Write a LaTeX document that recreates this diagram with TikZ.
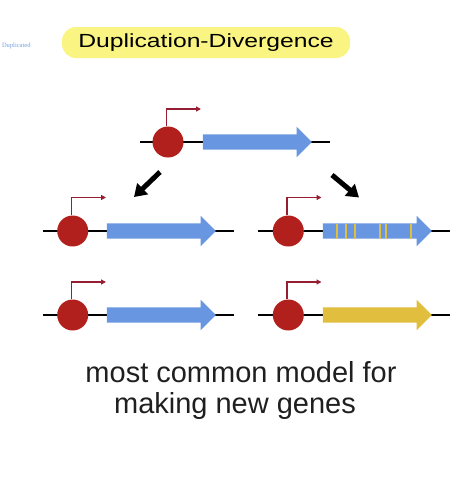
\documentclass[tikz,border=0pt]{standalone}
\usepackage{fontspec}
\newfontfamily\labelsans{Liberation Sans}
\newfontfamily\labelserif{Liberation Serif}
\usetikzlibrary{shapes.arrows,arrows.meta}

\definecolor{PromoterRed}{RGB}{178,32,30}
\definecolor{StartColor}{RGB}{150,30,50}
\definecolor{GeneBlue}{RGB}{105,150,225}
\definecolor{GeneGold}{RGB}{226,190,62}
\definecolor{TitleYellow}{RGB}{250,245,130}
\definecolor{TinyBlue}{RGB}{110,160,225}

\tikzstyle{promoter}=[circle, fill=PromoterRed,
                      minimum size=31pt,
                      inner sep=0pt
                     ]
\tikzstyle{gene-base}=[single arrow,
                       anchor=tail,
                       inner xsep=0pt,
                       inner ysep=7.5pt,
                       minimum height=109pt,
                       single arrow head extend=7.5pt,
                       single arrow head indent=0pt
                      ]
\tikzstyle{gene}=[gene-base, fill=GeneBlue]
\tikzstyle{diverged}=[gene-base, fill=GeneGold]
\tikzstyle{dnaline}=[draw=black, line width=2pt]
\tikzstyle{tss}=[draw=StartColor, line width=1.4pt, -{Triangle[length=5pt,width=5pt]}]
\tikzstyle{mutation}=[draw=GeneGold, line width=1.3pt]
\tikzstyle{copyarrow}=[line width=5pt, -{Triangle[length=12pt,width=15pt]}]

\begin{document}
\begin{tikzpicture}[x=1pt, y=-1pt]
\useasboundingbox (0,0) rectangle (474,482);

\node at (-1.5, 46) (dup_label) [anchor=west, text=TinyBlue, font=\labelserif\fontsize{6.5}{8}\selectfont] {Duplicated};
\node at (206, 42.5) (title) [fill=TitleYellow, rounded corners=14pt, minimum width=288pt, minimum height=31pt,
    font=\labelsans\fontsize{19}{23}\selectfont] {\scalebox{1.3}[1]{Duplication-Divergence}};

% dna strands
\coordinate (l0) at (140, 142);   \coordinate (r0) at (330, 142);
\coordinate (l1) at (43, 231);    \coordinate (r1) at (234, 231);
\coordinate (l2) at (258, 231);   \coordinate (r2) at (450, 231);
\coordinate (l3) at (43, 315);    \coordinate (r3) at (234, 315);
\coordinate (l4) at (258, 315);   \coordinate (r4) at (450, 315);
\draw[dnaline] (l0) -- (r0);
\draw[dnaline] (l1) -- (r1);
\draw[dnaline] (l2) -- (r2);
\draw[dnaline] (l3) -- (r3);
\draw[dnaline] (l4) -- (r4);

% original gene
\node at (168, 142) (prom0) [promoter] {};
\node at (202.7, 142) (gene0) [gene] {};

% duplicated copies
\node at (72.7, 231) (prom1) [promoter] {};
\node at (106.7, 231) (gene1) [gene] {};
\node at (288.3, 231) (prom2) [promoter] {};
\node at (322.7, 231) (gene2) [gene] {};
\node at (72.7, 315) (prom3) [promoter] {};
\node at (106.7, 315) (gene3) [gene] {};
\node at (288.3, 315) (prom4) [promoter] {};
\node at (322.7, 315) (gene4) [diverged] {};

% mutations in the copy
\foreach \mx in {337, 346, 355, 380, 386, 411} {
  \draw[mutation] (\mx, 223.5) -- (\mx, 238.5);
}

% transcription starts
\coordinate (tss0) at (201, 109);
\coordinate (tss1) at (106, 197.5);
\coordinate (tss2) at (321.5, 197.5);
\coordinate (tss3) at (106, 282);
\coordinate (tss4) at (321.5, 282);
\draw[tss] ([xshift=-1.3pt]prom0.north) |- (tss0);
\draw[tss] ([xshift=-1.3pt]prom1.north) |- (tss1);
\draw[tss] ([xshift=-1.3pt]prom2.north) |- (tss2);
\draw[tss] ([xshift=-1.3pt]prom3.north) |- (tss3);
\draw[tss] ([xshift=-1.3pt]prom4.north) |- (tss4);

% duplication
\coordinate (cl0) at (160, 172);  \coordinate (cl1) at (134, 197);
\coordinate (cr0) at (332, 175);  \coordinate (cr1) at (359, 197.5);
\draw[copyarrow] (cl0) -- (cl1);
\draw[copyarrow] (cr0) -- (cr1);

\node at (241, 382) (caption1) [anchor=base, font=\labelsans\fontsize{29}{31}\selectfont, text=black!88] {most common model for};
\node at (235, 413) (caption2) [anchor=base, font=\labelsans\fontsize{29}{31}\selectfont, text=black!88] {making new genes};

\end{tikzpicture}
\end{document}
